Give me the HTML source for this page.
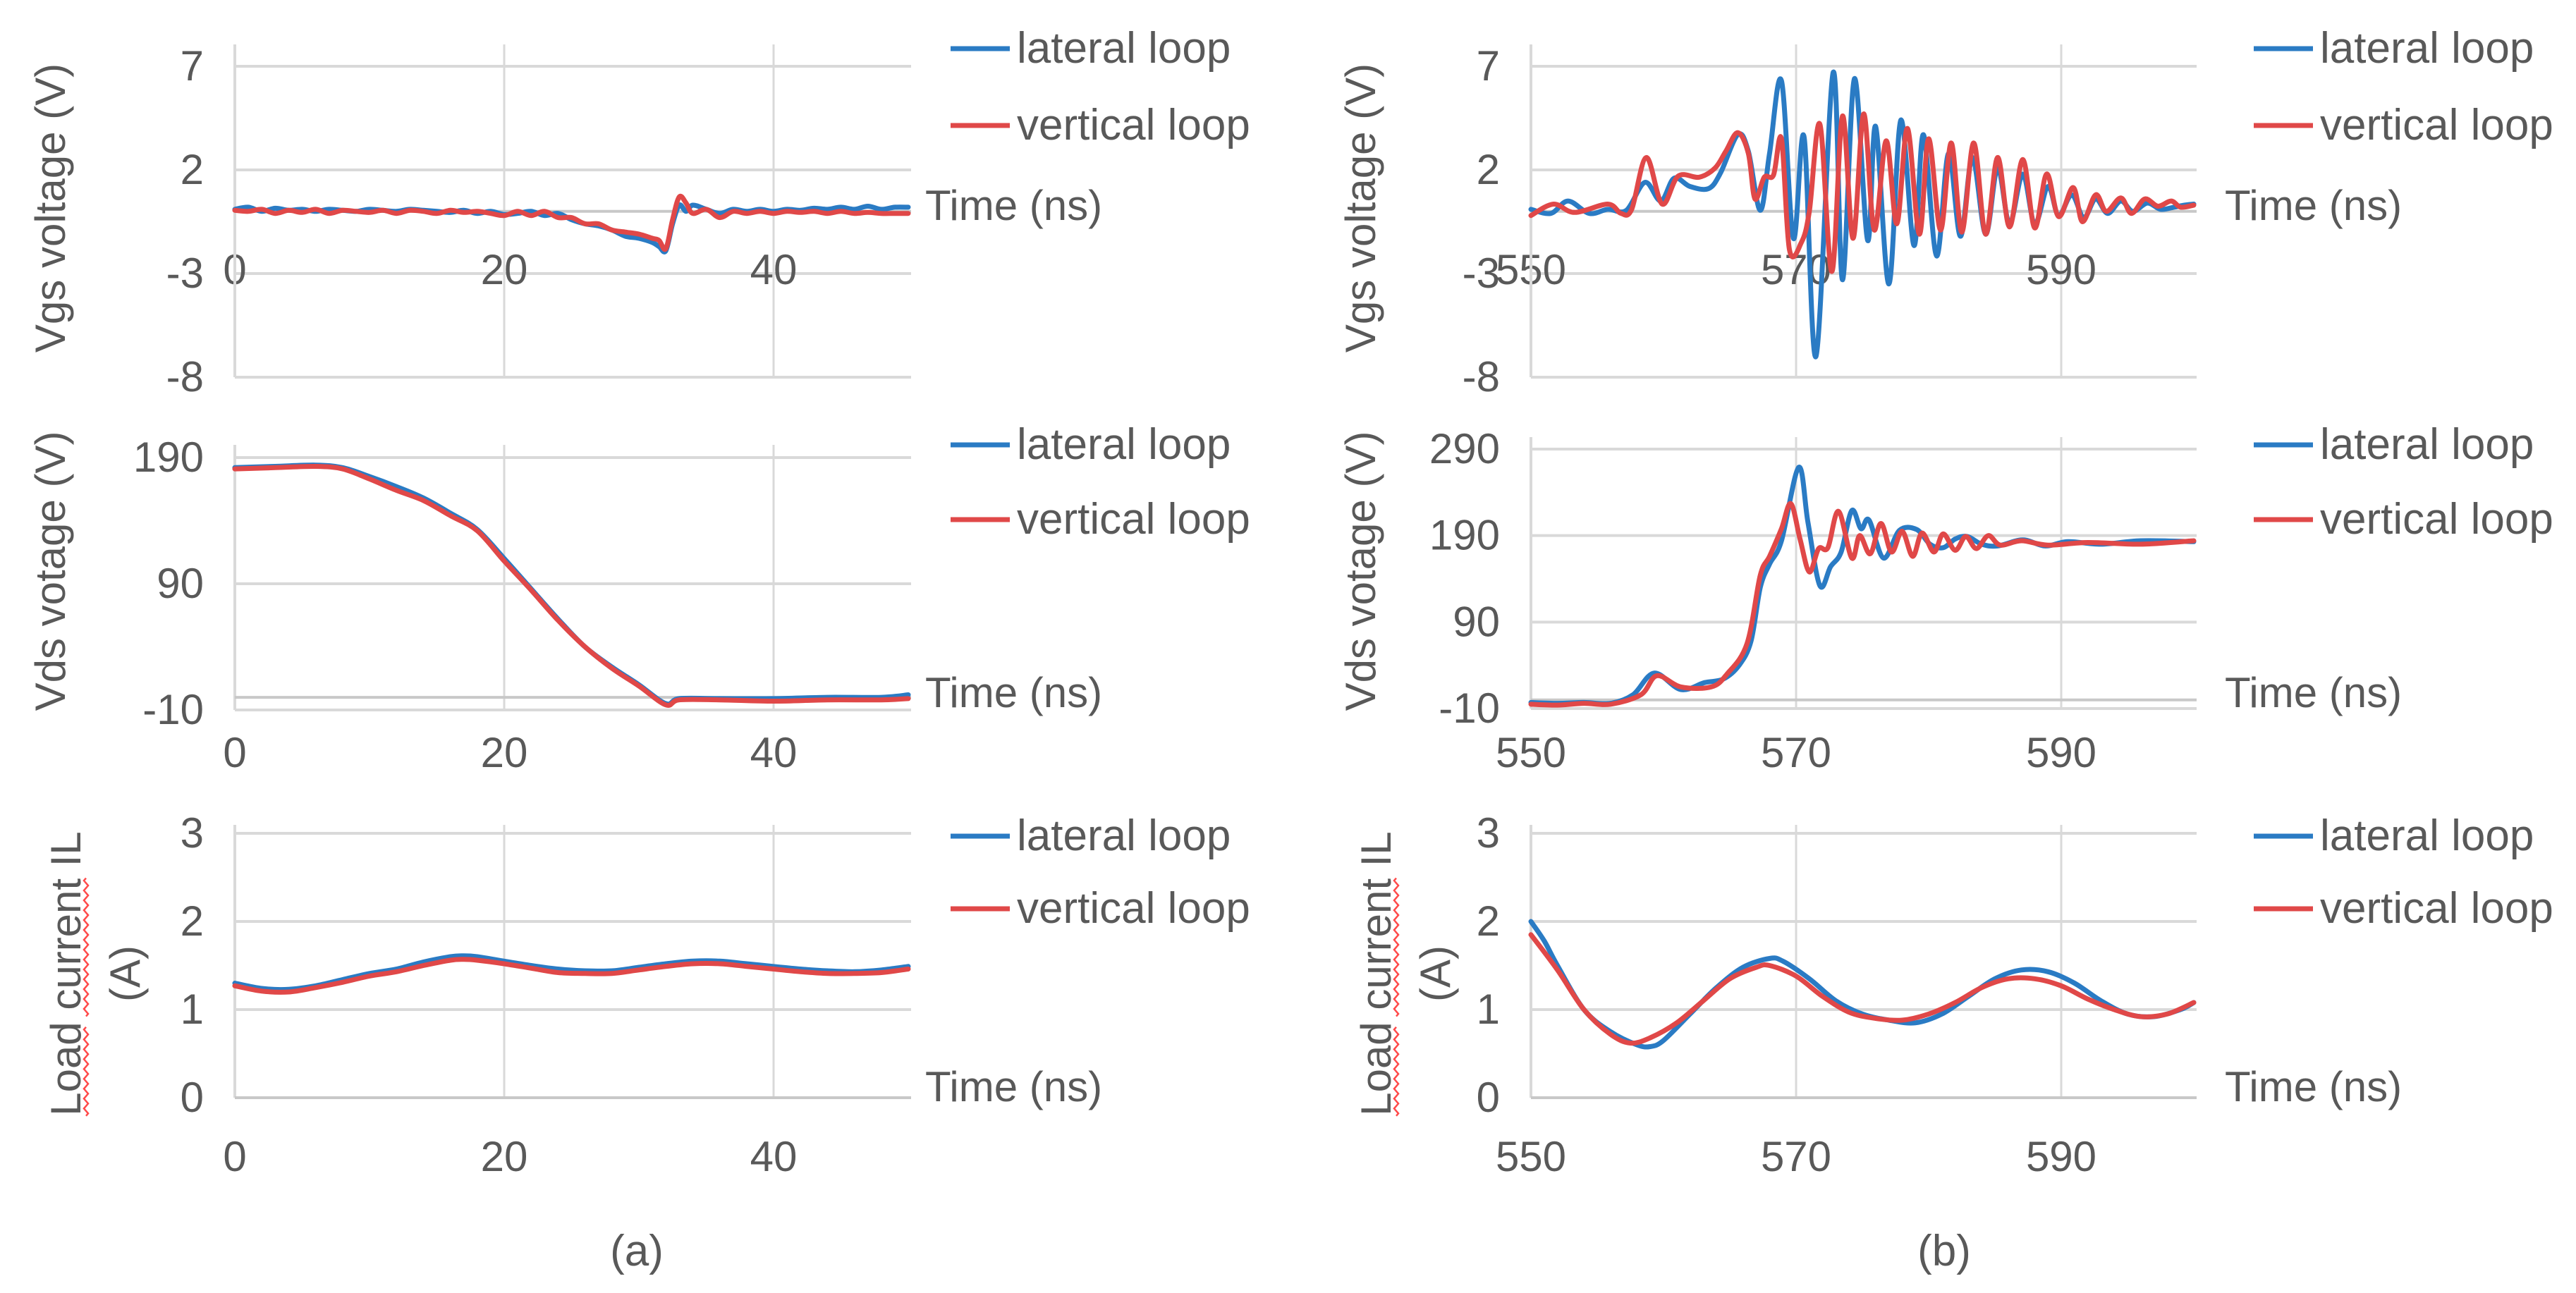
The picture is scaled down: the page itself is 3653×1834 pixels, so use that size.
<!DOCTYPE html>
<html><head><meta charset="utf-8">
<style>
html,body{margin:0;padding:0;background:#fff;}
svg{display:block;}
text{font-family:"Liberation Sans",sans-serif;fill:#595959;}
</style></head>
<body>
<svg id="fig" width="3653" height="1834" viewBox="0 0 3653 1834" xmlns="http://www.w3.org/2000/svg">
<rect width="3653" height="1834" fill="#fff"/>
<g id="layer"></g>
<text x="903" y="1795" font-size="62" text-anchor="middle">(a)</text>
<text x="2757" y="1795" font-size="62" text-anchor="middle">(b)</text>
</svg>
<script>
// ---------- data ----------
// (a) Vgs
const aVgsLatT = [0,1,2,3,4,5,6,7,8,9,10,11,12,13,14,15,16,17,18,19,20,21,22,23,24,25,26,27,28,29,30,31,31.5,32,32.5,33,33.5,34,35,36,37,38,39,40,41,42,43,44,45,46,47,48,49,50];
const aVgsLatV = [0.1,0.2,0.0,0.15,0.05,0.1,0.0,0.1,0.05,0.0,0.1,0.05,0.0,0.1,0.05,0.0,-0.05,0.05,-0.1,0.0,-0.15,-0.1,0.0,-0.2,-0.1,-0.4,-0.6,-0.7,-0.9,-1.2,-1.3,-1.5,-1.7,-1.9,-0.6,0.3,0.0,0.3,0.1,-0.1,0.1,0.0,0.1,0.0,0.1,0.05,0.15,0.1,0.2,0.1,0.25,0.1,0.2,0.2];
const aVgsVerT = [0,1,2,3,4,5,6,7,8,9,10,11,12,13,14,15,16,17,18,19,20,21,22,23,24,25,26,27,28,29,30,31,31.5,32,32.5,33,33.5,34,35,36,37,38,39,40,41,42,43,44,45,46,47,48,49,50];
const aVgsVerV = [0.05,0.0,0.1,-0.1,0.05,-0.05,0.1,-0.1,0.05,0.0,-0.05,0.05,-0.1,0.05,0.0,-0.1,0.05,-0.05,0.0,-0.1,-0.2,0.0,-0.2,0.0,-0.3,-0.3,-0.6,-0.6,-0.9,-1.0,-1.1,-1.3,-1.4,-1.8,-0.4,0.7,0.4,-0.1,0.1,-0.3,0.0,-0.1,0.0,-0.1,0.0,-0.05,0.0,-0.1,0.0,-0.1,-0.05,-0.1,-0.1,-0.1];
// (a) Vds
const aVdsLatT = [0,3,6,8,10,12,14,16,18,20,22,24,26,28,30,32,33,36,40,44,48,50];
const aVdsLatV = [182,183,184,182,175,167,158,146,133,110,86,62,40,24,10,-5,-1,-1,-1,0,0,2];
const aVdsVerT = [0,3,6,8,10,12,14,16,18,20,22,24,26,28,30,32,33,36,40,44,48,50];
const aVdsVerV = [181,182,183,181,173,164,156,144,132,108,85,61,40,23,9,-6,-2,-2,-3,-2,-2,-1];
// (a) IL
const aIlLatT = [0,2,4,6,8,10,12,14,16,17,18,20,22,24,26,28,30,32,34,36,38,40,42,44,46,48,50];
const aIlLatV = [1.3,1.24,1.23,1.27,1.34,1.41,1.46,1.54,1.6,1.61,1.6,1.55,1.5,1.46,1.44,1.44,1.48,1.52,1.55,1.55,1.52,1.49,1.46,1.44,1.43,1.45,1.49];
const aIlVerT = [0,2,4,6,8,10,12,14,16,17,18,20,22,24,26,28,30,32,34,36,38,40,42,44,46,48,50];
const aIlVerV = [1.27,1.21,1.2,1.25,1.31,1.38,1.43,1.5,1.56,1.57,1.56,1.52,1.47,1.42,1.41,1.41,1.45,1.49,1.52,1.52,1.49,1.46,1.43,1.41,1.41,1.42,1.46];
// (b) Vgs
const bVgsLatT = [550,551.5,552.8,554.4,555.8,557.2,558.6,559.8,560.8,562,563.4,564.3,565.6,566.4,567.3,568,568.9,569.8,570.6,571.5,572.8,573.5,574.4,575.4,576,577,577.9,578.9,579.6,580.6,581.5,582.4,583.3,584.3,585.2,586.1,587.1,588,589,589.8,590.8,591.7,592.6,593.5,594.5,595.4,596.5,597.5,598.5,599.3,600];
const bVgsLatV = [0.1,-0.1,0.5,-0.1,0.1,0.05,1.4,0.5,1.6,1.2,1.1,1.85,3.7,2.9,0.05,2.8,6.3,-1.3,3.6,-7.0,6.7,-3.3,6.4,-1.4,4.1,-3.5,4.4,-1.65,3.7,-2.15,2.8,-1.2,2.6,-1.1,2.1,-0.6,1.8,-0.6,1.2,-0.2,0.8,-0.3,0.6,-0.1,0.5,0.0,0.4,0.1,0.2,0.3,0.35];
const bVgsVerT = [550,551.7,553.3,555.8,556.8,557.6,558.7,559.9,561.1,562.7,563.9,564.7,565.6,566.4,566.9,567.6,568.3,568.9,569.5,570.4,571,571.8,572.7,573.5,574.3,575.1,575.9,576.8,577.6,578.4,579.3,580,580.9,581.7,582.5,583.4,584.3,585.2,586.1,587.1,588,588.9,589.8,590.9,591.6,592.6,593.4,594.5,595.3,596.3,597.3,598.3,599,600];
const bVgsVerV = [-0.2,0.35,-0.05,0.35,-0.1,0.1,2.6,0.35,1.7,1.65,2.1,2.9,3.8,2.8,0.6,1.65,1.75,3.5,-1.85,-1.5,0,4.2,-2.9,4.6,-1.3,4.7,-0.9,3.4,-0.6,4.0,-1.1,3.5,-0.9,3.3,-1.0,3.3,-1.1,2.6,-0.75,2.5,-0.8,1.8,-0.25,1.15,-0.5,0.8,0.0,0.65,-0.1,0.6,0.25,0.5,0.2,0.3];
// (b) Vds
const bVdsLatT = [550,552,554,556,557.7,559.3,561.3,563.1,564.5,565.7,566.6,567.3,568,568.9,570.2,570.9,571.8,572.6,573.4,574.2,574.9,575.5,576.6,577.8,579.1,580.1,581.1,582,582.9,584,585.2,587.1,588.8,590.5,593,596,600];
const bVdsLatV = [-3,-4,-3,-4,6,31,12,20,24,40,68,130,157,184,269,205,132,154,171,219,198,208,164,196,197,180,176,186,189,180,178,185,178,183,180,184,183];
const bVdsVerT = [550,552,554,556,558.3,559.5,561.3,563.6,564.8,566.3,567.3,568,568.9,569.6,570.3,571,571.7,572.4,573.2,574.2,574.8,575.6,576.4,577.2,578,578.8,579.5,580.4,581.1,582,582.8,583.6,584.5,585.4,587,589,592,596,600];
const bVdsVerV = [-5,-6,-4,-5,6,28,15,15,30,65,144,166,198,227,186,148,175,176,218,164,190,169,204,171,195,166,193,171,192,173,189,175,190,179,184,179,182,180,184];
// (b) IL
const bIlLatT = [550,551,552,554,556,558,559,560,562,564,566,568,569,571,573,575,577,579,581,583,585,587,589,591,593,595,597,599,600];
const bIlLatV = [2.0,1.78,1.5,1.0,0.75,0.6,0.58,0.65,0.95,1.25,1.48,1.58,1.55,1.35,1.1,0.95,0.88,0.85,0.95,1.15,1.35,1.45,1.43,1.3,1.1,0.95,0.92,1.0,1.08];
const bIlVerT = [550,552,554,556,557.5,559,561,563,565,567,568,570,572,574,576,578,580,582,584,586,588,590,592,594,596,598,600];
const bIlVerV = [1.85,1.45,1.0,0.72,0.62,0.68,0.85,1.1,1.35,1.48,1.5,1.38,1.15,0.97,0.9,0.88,0.95,1.08,1.25,1.35,1.35,1.27,1.12,1.0,0.92,0.95,1.08];

// tick labels
const vgsTicks = [7,2,-3,-8];
const aVdsTicks = [190,90,-10];
const bVdsTicks = [290,190,90,-10];
const ilTicks = [3,2,1,0];
const aXTicks = [0,20,40];
const bXTicks = [550,570,590];

// ---------- drawing ----------
const NS='http://www.w3.org/2000/svg';
const layer=document.getElementById('layer');
function mk(tag,attrs,parent){const e=document.createElementNS(NS,tag);for(const k in attrs)e.setAttribute(k,attrs[k]);(parent||layer).appendChild(e);return e;}

function smoothPath(pts){
  let d='M'+pts[0][0].toFixed(1)+','+pts[0][1].toFixed(1);
  for(let i=0;i<pts.length-1;i++){
    const p0=pts[Math.max(0,i-1)],p1=pts[i],p2=pts[i+1],p3=pts[Math.min(pts.length-1,i+2)];
    const c1x=p1[0]+(p2[0]-p0[0])/6,c1y=p1[1]+(p2[1]-p0[1])/6;
    const c2x=p2[0]-(p3[0]-p1[0])/6,c2y=p2[1]-(p3[1]-p1[1])/6;
    d+='C'+c1x.toFixed(1)+','+c1y.toFixed(1)+' '+c2x.toFixed(1)+','+c2y.toFixed(1)+' '+p2[0].toFixed(1)+','+p2[1].toFixed(1);
  }
  return d;
}
function wavy(x,y1,y2,g){
  let d='M'+x+','+y1;
  let s=1;
  for(let y=y1;y>y2;y-=7){d+=' L'+(x+s*3)+','+(y-3.5)+' L'+x+','+(y-7);s=-s;}
  const p=mk('path',{d:d,fill:'none',stroke:'#ff4a4a','stroke-width':2.5},g);
  
  
}

function panel(cfg){
  const g=mk('g',{});
  
  
  const X=t=>cfg.x0+(t-cfg.xmin)/(cfg.xmax-cfg.xmin)*(cfg.x1-cfg.x0);
  const Y=v=>cfg.yTop+(cfg.ymax-v)/(cfg.ymax-cfg.ymin)*(cfg.yBot-cfg.yTop);
  cfg.yTicks.forEach(v=>{
    const l=mk('line',{x1:cfg.x0,x2:cfg.gridR,y1:Y(v),y2:Y(v),stroke:'#d9d9d9','stroke-width':4},g);
    
    
    const t=mk('text',{x:cfg.x0-44,y:Y(v)+20,'font-size':60,'text-anchor':'end'},g);
    t.textContent=v;
    
    
  });
  cfg.xTicks.forEach((v,i)=>{
    if(i>0){
      const l=mk('line',{x1:X(v),x2:X(v),y1:cfg.gridTop,y2:cfg.yBot,stroke:'#d9d9d9','stroke-width':3},g);
      
      
    }
    const t=mk('text',{x:X(v),y:cfg.xLabY,'font-size':60,'text-anchor':'middle'},g);
    t.textContent=v;
    
    
  });
  const ya=mk('line',{x1:cfg.x0,x2:cfg.x0,y1:cfg.gridTop,y2:cfg.yBot,stroke:'#d9d9d9','stroke-width':4},g);
  
  
  const xa=mk('line',{x1:cfg.x0,x2:cfg.gridR,y1:Y(0),y2:Y(0),stroke:'#c8c8c8','stroke-width':4},g);
  
  
  const series=[[cfg.latT,cfg.latV,'#2a7bc4','lateral-loop-line'],[cfg.verT,cfg.verV,'#e04848','vertical-loop-line']];
  series.forEach(s=>{
    const pts=s[0].map((t,i)=>[X(t),Y(s[1][i])]);
    const p=mk('path',{d:smoothPath(pts),fill:'none',stroke:s[2],'stroke-width':7,'stroke-linejoin':'round','stroke-linecap':'round'},g);
    
    
  });
  const tl=mk('text',{x:cfg.xTitle,y:cfg.timeY,'font-size':60},g);
  tl.textContent='Time (ns)';
  
  
  const leg=mk('g',{},g);
  
  
  [['lateral loop','#2a7bc4',cfg.legY[0]],['vertical loop','#e04848',cfg.legY[1]]].forEach(e=>{
    const l=mk('line',{x1:cfg.legX,x2:cfg.legX+84,y1:e[2],y2:e[2],stroke:e[1],'stroke-width':7},leg);
    
    
    const t=mk('text',{x:cfg.legX+94,y:e[2]+20,'font-size':62},leg);
    t.textContent=e[0];
    
    
  });
  const yt=mk('text',{'font-size':60,'text-anchor':'middle',transform:'translate('+cfg.yTitleX+','+cfg.yTitleY+') rotate(-90)','font-family':'"DejaVu Sans","Liberation Sans",sans-serif'},g);
  
  
  if(cfg.ytitle2){
    yt.textContent='Load current IL';
    const yt2=mk('text',{'font-size':60,'text-anchor':'middle',transform:'translate('+(cfg.yTitleX+84)+','+cfg.yTitleY+') rotate(-90)','font-family':'"DejaVu Sans","Liberation Sans",sans-serif'},g);
    yt2.textContent=cfg.ytitle2;
    
    
    const bb=yt.getBBox();
    const h=bb.width; // text length along rotated axis
    const y0=cfg.yTitleY+h/2;
    wavy(cfg.yTitleX+8,y0,y0-h*0.31,g);
    wavy(cfg.yTitleX+8,y0-h*0.35,y0-h*0.82,g);
  } else yt.textContent=cfg.ytitle;
}

const L={x0:333,x1:1288,xmin:0,xmax:50,gridR:1292,xTicks:aXTicks,xTitle:1312,legX:1348,yTitleX:92};
const R={x0:2171,x1:3111,xmin:550,xmax:600,gridR:3115,xTicks:bXTicks,xTitle:3155,legX:3196,yTitleX:1950};

panel(Object.assign({},L,{name:'chart-a-vgs',yTop:94,yBot:535,ymax:7,ymin:-8,yTicks:vgsTicks,gridTop:63,xLabY:403,timeY:312,legY:[69,178],
  latT:aVgsLatT,latV:aVgsLatV,verT:aVgsVerT,verV:aVgsVerV,yTitleY:295,ytitle:'Vgs voltage (V)'}));
panel(Object.assign({},L,{name:'chart-a-vds',yTop:649,yBot:1007,ymax:190,ymin:-10,yTicks:aVdsTicks,gridTop:631,xLabY:1088,timeY:1003,legY:[631,737],
  latT:aVdsLatT,latV:aVdsLatV,verT:aVdsVerT,verV:aVdsVerV,yTitleY:810,ytitle:'Vds votage (V)'}));
panel(Object.assign({},L,{name:'chart-a-il',yTop:1182,yBot:1557,ymax:3,ymin:0,yTicks:ilTicks,gridTop:1170,xLabY:1661,timeY:1562,legY:[1186,1289],
  latT:aIlLatT,latV:aIlLatV,verT:aIlVerT,verV:aIlVerV,yTitleY:1381,yTitleX:114,ytitle2:'(A)'}));
panel(Object.assign({},R,{name:'chart-b-vgs',yTop:94,yBot:535,ymax:7,ymin:-8,yTicks:vgsTicks,gridTop:63,xLabY:403,timeY:312,legY:[69,178],
  latT:bVgsLatT,latV:bVgsLatV,verT:bVgsVerT,verV:bVgsVerV,yTitleY:295,ytitle:'Vgs voltage (V)'}));
panel(Object.assign({},R,{name:'chart-b-vds',yTop:637,yBot:1005,ymax:290,ymin:-10,yTicks:bVdsTicks,gridTop:620,xLabY:1088,timeY:1003,legY:[631,737],
  latT:bVdsLatT,latV:bVdsLatV,verT:bVdsVerT,verV:bVdsVerV,yTitleY:810,ytitle:'Vds votage (V)'}));
panel(Object.assign({},R,{name:'chart-b-il',yTop:1182,yBot:1557,ymax:3,ymin:0,yTicks:ilTicks,gridTop:1170,xLabY:1661,timeY:1562,legY:[1186,1289],
  latT:bIlLatT,latV:bIlLatV,verT:bIlVerT,verV:bIlVerV,yTitleY:1381,yTitleX:1972,ytitle2:'(A)'}));
</script>
</body></html>
